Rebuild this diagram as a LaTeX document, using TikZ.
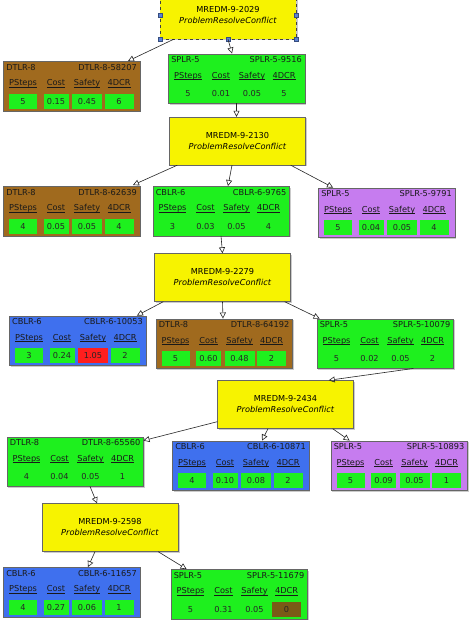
\documentclass[tikz,border=0pt]{standalone}
\usepackage{fontspec}
\setmainfont{DejaVu Sans}
\usepackage{xcolor}
\usepackage{tikz}
\usetikzlibrary{positioning,arrows.meta,calc,shadows}
\definecolor{goal}{HTML}{F7F300}
\definecolor{okay}{HTML}{1EF01E}
\definecolor{dtlr}{HTML}{A06A1E}
\definecolor{cblr}{HTML}{3F70EE}
\definecolor{splr}{HTML}{C67CEF}
\definecolor{bad}{HTML}{FF1E1E}
\definecolor{olive}{HTML}{7A5A16}
\definecolor{grip}{HTML}{5C82D2}

% one record box: name, centre, fill, kind, id, cells (value/colour)
\newcommand{\recbox}[6]{%
  \node[rec, fill=#3] (#1) at (#2) {};
  \node[ttl, anchor=base west] (#1-kind) at ([xshift=3pt,yshift=-9pt]#1.north west) {#4};
  \node[ttl, anchor=base east] (#1-id) at ([xshift=-3pt,yshift=-9pt]#1.north east) {#5};
  \foreach \hd/\xo [count=\k] in {PSteps/20,Cost/53,Safety/84,4DCR/116}
    \node[hdr, anchor=base] (#1-h\k) at ([xshift=\xo pt,yshift=-24.5pt]#1.north west) {\underline{\smash{\hd}}};
  \foreach \val/\col [count=\k] in {#6} {
    \pgfmathsetmacro{\xo}{{20,53,84,116}[\k-1]}
    \pgfmathsetmacro{\cw}{{28,25,30,29}[\k-1]}
    \node[cell, fill=\col, minimum width=\cw pt] (#1-v\k) at ([xshift=\xo pt,yshift=-40pt]#1.north west) {\val};
  }%
}

\begin{document}
\begin{tikzpicture}[x=1pt, y=-1pt, font=\fontsize{8.2}{11}\selectfont,
  mred/.style={rectangle, fill=goal, draw=black!60, inner sep=0pt, minimum width=136pt, minimum height=48pt, align=center,
    drop shadow={shadow xshift=1.5pt, shadow yshift=-1.5pt, fill=black!40}},
  rec/.style={rectangle, draw=black!60, inner sep=0pt, minimum width=136.5pt, minimum height=49.5pt,
    drop shadow={shadow xshift=1.5pt, shadow yshift=-1.5pt, fill=black!40}},
  ttl/.style={inner sep=0pt, text=black!90},
  hdr/.style={inner sep=0pt, text=black!90},
  cell/.style={inner sep=0pt, minimum height=15pt, text height=6pt, text depth=0pt, text=black!85},
  grip/.style={rectangle, fill=grip, draw=grip!60!black, line width=0.3pt, inner sep=0pt, minimum size=4pt},
  link/.style={-{Triangle[open,length=6pt,width=6pt]}, line width=0.6pt, black!85}]
\useasboundingbox (0,0) rectangle (474,620);
\clip (0,0) rectangle (474,620);
\fill[white] (0,0) rectangle (474,620);

% goal nodes
\node[mred, dashed, draw=black!75] (m1) at (228,15) {MREDM-9-2029\\\textit{ProblemResolveConflict}};
\foreach \a [count=\g] in {north west,north,north east,west,east,south west,south,south east}
  \node[grip] (grip\g) at (m1.\a) {};
\node[mred] (m2) at (237.5,141) {MREDM-9-2130\\\textit{ProblemResolveConflict}};
\node[mred] (m3) at (222.5,277.5) {MREDM-9-2279\\\textit{ProblemResolveConflict}};
\node[mred] (m4) at (285.5,404.5) {MREDM-9-2434\\\textit{ProblemResolveConflict}};
\node[mred] (m5) at (110,527.5) {MREDM-9-2598\\\textit{ProblemResolveConflict}};

% records
\recbox{d1}{71.5,86}{dtlr}{DTLR-8}{DTLR-8-58207}{5/okay,0.15/okay,0.45/okay,6/okay}
\recbox{s1}{236.5,78.5}{okay}{SPLR-5}{SPLR-5-9516}{5/none,0.01/none,0.05/none,5/none}
\recbox{d2}{71.5,211}{dtlr}{DTLR-8}{DTLR-8-62639}{4/okay,0.05/okay,0.05/okay,4/okay}
\recbox{c2}{221,211}{okay}{CBLR-6}{CBLR-6-9765}{3/none,0.03/none,0.05/none,4/none}
\recbox{s2}{386.5,212.5}{splr}{SPLR-5}{SPLR-5-9791}{5/okay,0.04/okay,0.05/okay,4/okay}
\recbox{c3}{77.5,340.5}{cblr}{CBLR-6}{CBLR-6-10053}{3/okay,0.24/okay,1.05/bad,2/okay}
\recbox{d3}{224,343.5}{dtlr}{DTLR-8}{DTLR-8-64192}{5/okay,0.60/okay,0.48/okay,2/okay}
\recbox{s3}{385,343.5}{okay}{SPLR-5}{SPLR-5-10079}{5/none,0.02/none,0.05/none,2/none}
\recbox{d4}{75,461.5}{okay}{DTLR-8}{DTLR-8-65560}{4/none,0.04/none,0.05/none,1/none}
\recbox{c4}{240.5,465.5}{cblr}{CBLR-6}{CBLR-6-10871}{4/okay,0.10/okay,0.08/okay,2/okay}
\recbox{s4}{399,465.5}{splr}{SPLR-5}{SPLR-5-10893}{5/okay,0.09/okay,0.05/okay,1/okay}
\recbox{c5}{71.5,592}{cblr}{CBLR-6}{CBLR-6-11657}{4/okay,0.27/okay,0.06/okay,1/okay}
\recbox{s5}{239,594}{okay}{SPLR-5}{SPLR-5-11679}{5/none,0.31/none,0.05/none,0/olive}

% links
\draw[link] ([xshift=14pt]m1.south west) -- ([xshift=-12pt]d1.north east);
\draw[link] (m1.south) -- ([xshift=-4.5pt]s1.north);
\draw[link] (s1.south) -- ([xshift=-1pt]m2.north);
\draw[link] ([xshift=8pt]m2.south west) -- ([xshift=-7pt,yshift=1pt]d2.north east);
\draw[link] ([xshift=-5.5pt]m2.south) -- ([xshift=7pt]c2.north);
\draw[link] ([xshift=-15pt]m2.south east) -- ([xshift=15pt]s2.north west);
\draw[link] (c2.south) -- (m3.north);
\draw[link] ([xshift=9pt]m3.south west) -- ([xshift=-9pt]c3.north east);
\draw[link] (m3.south) -- ([xshift=-1pt]d3.north);
\draw[link] ([xshift=-6pt]m3.south east) -- ([xshift=3pt]s3.north west);
\draw[link] ([xshift=-40pt]s3.south east) -- ([xshift=-25pt]m4.north east);
\draw[link] ([yshift=7pt]m4.south west) -- ([yshift=-4pt]d4.north east);
\draw[link] ([xshift=-17.5pt]m4.south) -- ([xshift=21.5pt]c4.north);
\draw[link] ([xshift=-21pt]m4.south east) -- ([xshift=19pt]s4.north west);
\draw[link] ([xshift=15pt]d4.south) -- ([xshift=-13pt]m5.north);
\draw[link] ([xshift=-15pt]m5.south) -- ([xshift=16.5pt]c5.north);
\draw[link] ([xshift=-20pt]m5.south east) -- ([xshift=16pt]s5.north west);
\end{tikzpicture}
\end{document}
